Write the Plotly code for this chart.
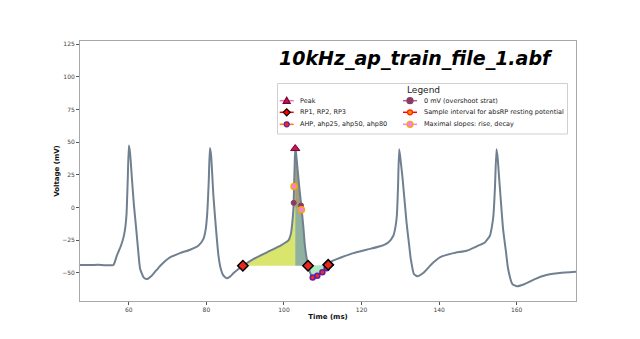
import plotly.graph_objects as go

# ---------------- data ----------------
time_ms = [47.4, 50.0, 52.0, 54.0, 56.0, 56.9, 58.0, 58.7, 59.1, 59.4, 59.7, 60.0, 60.3, 60.8, 61.3,
           61.9, 62.4, 62.9, 63.8, 64.6, 65.9, 67.0, 68.1, 70.6, 73.2, 75.8, 77.9, 79.2, 79.8, 80.2,
           80.6, 80.9, 81.2, 81.8, 82.4, 83.1, 83.7, 84.4, 85.3, 86.2, 87.0, 88.2, 89.4, 92.1, 95.6,
           99.0, 101.1, 101.8, 102.2, 102.45, 102.6, 102.75, 102.9, 103.1, 103.5, 104.0, 104.5, 105.0,
           105.4, 106.2, 106.8, 107.4, 108.0, 108.6, 109.9, 111.0, 111.4, 112.5, 113.6, 115.0, 117.9,
           121.3, 124.8, 126.9, 128.2, 128.8, 129.1, 129.4, 129.7, 130.0, 130.6, 131.6, 132.2, 132.7,
           133.5, 134.4, 135.9, 138.1, 140.2, 143.7, 147.1, 149.7, 151.8, 153.1, 153.6, 154.0, 154.4,
           154.8, 155.1, 155.5, 156.5, 157.2, 157.8, 158.9, 160.1, 162.1, 164.7, 167.7, 171.1, 175.3]
voltage_mv = [-44.1, -44.2, -44.0, -44.3, -44.1, -37.0, -29.0, -22.0, -15.0, -5.0, 20.0, 47.5, 42.0,
              21.6, 2.0, -16.6, -33.0, -47.0, -53.6, -54.9, -52.3, -48.5, -44.7, -38.3, -35.0, -32.4,
              -29.4, -24.3, -17.0, -5.0, 20.0, 45.5, 40.0, 8.9, -14.0, -37.0, -47.0, -52.3, -54.3,
              -52.8, -50.3, -47.4, -44.7, -39.6, -34.4, -29.4, -25.5, -20.0, -10.0, 0.0, 16.0, 32.0,
              45.1, 42.0, 29.3, 14.0, 0.0, -15.0, -29.4, -44.7, -50.5, -53.6, -53.0, -52.3, -49.7,
              -46.6, -44.0, -41.0, -39.6, -38.0, -35.0, -32.4, -29.8, -26.8, -21.7, -14.0, -6.4, 15.0,
              44.6, 38.0, 21.7, -11.5, -27.0, -39.6, -51.0, -52.8, -50.3, -43.4, -38.3, -35.0, -33.2,
              -29.8, -26.8, -21.7, -15.0, -6.4, 15.0, 44.6, 38.0, 21.7, -16.6, -33.0, -47.2, -58.7,
              -60.4, -58.7, -54.9, -51.8, -50.3, -49.3]

peak_t = [102.9]
peak_v = [45.1]
rp_t = [89.4, 106.2, 111.4]
rp_v = [-44.7, -44.7, -44.0]
ahp_t = [107.4, 108.6, 109.9, 111.0]
ahp_v = [-53.6, -52.3, -49.7, -46.6]
zero_t = [102.5, 104.4]
zero_v = [3.5, 1.5]
slope_t = [102.6, 104.5]
slope_v = [16.1, -1.8]

x_ticks = [60, 80, 100, 120, 140, 160]
y_ticks = [-50, -25, 0, 25, 50, 75, 100, 125]

title_text = "10kHz_ap_train_file_1.abf"
legend_labels = ["Peak", "RP1, RP2, RP3", "AHP, ahp25, ahp50, ahp80",
                 "0 mV (overshoot strat)", "Sample interval for absRP resting potential",
                 "Maximal slopes: rise, decay"]

# ---------------- layout geometry ----------------
W, H = 640, 339
ML, MR, MT, MB = 80, 64, 41, 38
PW = W - ML - MR
PH = H - MT - MB


def px(x):
    return (x - ML) / PW


def py(y):
    return (H - MB - y) / PH


FONT = "DejaVu Sans"
fig = go.Figure()


def segment(t0, t1):
    pts = [(t, v) for t, v in zip(time_ms, voltage_mv) if t0 <= t <= t1]
    return [p[0] for p in pts], [p[1] for p in pts]


# fill: RP1 -> peak (rise area)
sx, sy = segment(rp_t[0], peak_t[0])
fig.add_trace(go.Scatter(x=sx + [peak_t[0], rp_t[0]], y=sy + [rp_v[0], rp_v[0]], mode="lines",
                         fill="toself", fillcolor="rgba(205,220,60,0.75)", line=dict(width=0),
                         hoverinfo="skip", showlegend=False))
# fill: peak -> RP2 (decay area)
sx, sy = segment(peak_t[0], rp_t[1])
fig.add_trace(go.Scatter(x=sx + [peak_t[0]], y=sy + [rp_v[1]], mode="lines",
                         fill="toself", fillcolor="rgba(70,125,95,0.6)", line=dict(width=0),
                         hoverinfo="skip", showlegend=False))
# fill: overshoot above 0 mV
sx, sy = segment(rp_t[0], rp_t[1])
ox = [t for t, v in zip(sx, sy) if v >= 0]
oy = [v for v in sy if v >= 0]
fig.add_trace(go.Scatter(x=ox, y=oy, mode="lines", fill="toself",
                         fillcolor="rgba(200,120,50,0.35)", line=dict(width=0),
                         hoverinfo="skip", showlegend=False))
# fill: AHP area RP2 -> RP3
sx, sy = segment(rp_t[1], rp_t[2])
fig.add_trace(go.Scatter(x=sx, y=sy, mode="lines", fill="toself",
                         fillcolor="rgba(120,220,150,0.6)", line=dict(width=0),
                         hoverinfo="skip", showlegend=False))

# voltage trace
fig.add_trace(go.Scatter(x=time_ms, y=voltage_mv, mode="lines",
                         line=dict(color="#708090", width=2, shape="spline", smoothing=0.5),
                         showlegend=False))

# markers
fig.add_trace(go.Scatter(x=zero_t, y=zero_v, mode="markers",
                         marker=dict(symbol="circle", size=5, color="#8b3a62",
                                     line=dict(color="#8b3a62", width=1)), showlegend=False))
fig.add_trace(go.Scatter(x=slope_t, y=slope_v, mode="markers",
                         marker=dict(symbol="circle", size=6, color="#ee82ee",
                                     line=dict(color="#ffa500", width=1.5)), showlegend=False))
fig.add_trace(go.Scatter(x=ahp_t, y=ahp_v, mode="markers",
                         marker=dict(symbol="circle", size=5, color="#ff2a00",
                                     line=dict(color="#5b1fb5", width=1.5)), showlegend=False))
fig.add_trace(go.Scatter(x=rp_t, y=rp_v, mode="markers",
                         marker=dict(symbol="diamond", size=8, color="#e8281f",
                                     line=dict(color="black", width=1.5)), showlegend=False))
fig.add_trace(go.Scatter(x=peak_t, y=peak_v, mode="markers",
                         marker=dict(symbol="triangle-up", size=8, color="#c2185b",
                                     line=dict(color="#7a0026", width=1)), showlegend=False))

# ---------------- custom legend (layout shapes + text) ----------------
shapes = []
annotations = []
box = dict(type="rect", xref="paper", yref="paper", x0=px(277.5), x1=px(567.5), y0=py(134),
           y1=py(83.5), fillcolor="rgba(255,255,255,0.85)", line=dict(color="#d0d0d0", width=1),
           layer="above")
shapes.append(box)
annotations.append(dict(text="Legend", xref="paper", yref="paper", x=px(423), y=py(89.5),
                        xanchor="center", yanchor="middle", showarrow=False,
                        font=dict(family=FONT, size=9, color="#222")))

legend_style = [
    # (col marker x, row y, line color, marker kind, size, fill, edge)
    (286.7, 100.7, "#e377c2", "triangle", 7, "#c2185b", "#7a0026"),
    (286.7, 112.3, "#ff0000", "diamond", 7, "#ff0000", "black"),
    (286.7, 124.3, "#ff7f0e", "circle", 5, "#ff2a00", "#5b1fb5"),
    (410.0, 100.7, "#b0608f", "circle", 6, "#8b3a62", "#8b3a62"),
    (410.0, 112.3, "#ff0000", "circle", 5, "#ff8c00", "#ff2000"),
    (410.0, 124.3, "#ee82ee", "circle", 6, "#ee82ee", "#ffa500"),
]

for label, (mx, my, lc, kind, size, fc, ec) in zip(legend_labels, legend_style):
    shapes.append(dict(type="line", xref="paper", yref="paper", x0=px(mx - 7), x1=px(mx + 7),
                       y0=py(my), y1=py(my), line=dict(color=lc, width=1.5), layer="above"))
    r = size / 2
    common = dict(xref="paper", yref="paper", xsizemode="pixel", ysizemode="pixel",
                  xanchor=px(mx), yanchor=py(my), fillcolor=fc,
                  line=dict(color=ec, width=1.2), layer="above")
    if kind == "circle":
        shapes.append(dict(type="circle", x0=-r, x1=r, y0=-r, y1=r, **common))
    elif kind == "triangle":
        shapes.append(dict(type="path", path=f"M{-r},{-r*0.75} L{r},{-r*0.75} L0,{r} Z", **common))
    else:
        shapes.append(dict(type="path", path=f"M0,{-r} L{r},0 L0,{r} L{-r},0 Z", **common))
    annotations.append(dict(text=label, xref="paper", yref="paper", x=px(mx + 11.5), y=py(my),
                            xanchor="left", yanchor="middle", showarrow=False,
                            font=dict(family=FONT, size=6.5, color="#222")))

# big title inside the axes
annotations.append(dict(text=f"<b><i>{title_text}</i></b>", xref="paper", yref="paper",
                        x=px(416), y=py(58), xanchor="center", yanchor="middle", showarrow=False,
                        font=dict(family=FONT, size=19, color="black")))

axis_common = dict(showgrid=False, zeroline=False, showline=True, mirror=True,
                   linecolor="#a8a8a8", linewidth=1, ticks="outside", ticklen=3, tickwidth=1,
                   tickcolor="#555", tickfont=dict(family=FONT, size=6, color="#444"))

fig.update_layout(
    width=W, height=H,
    margin=dict(l=ML, r=MR, t=MT, b=MB, autoexpand=False),
    paper_bgcolor="white", plot_bgcolor="white",
    font=dict(family=FONT),
    xaxis=dict(range=[47.4, 175.3], tickvals=x_ticks,
               title=dict(text="<b>Time (ms)</b>", font=dict(family=FONT, size=7, color="#111"),
                          standoff=1), **axis_common),
    yaxis=dict(range=[-71.7, 127.5], tickvals=y_ticks,
               title=dict(text="<b>Voltage (mV)</b>", font=dict(family=FONT, size=7, color="#111"),
                          standoff=1), **axis_common),
    shapes=shapes,
    annotations=annotations,
    showlegend=False,
)

fig.write_html("out.html")
